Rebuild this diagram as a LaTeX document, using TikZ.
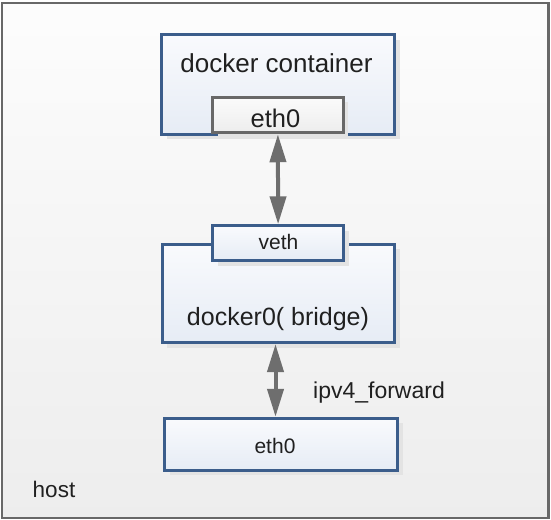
\documentclass[tikz,border=0pt]{standalone}
\usepackage{fontspec}
\setmainfont{Liberation Sans}
\usetikzlibrary{arrows.meta,shadows,positioning}

\definecolor{boxblue}{HTML}{3B5D8B}
\definecolor{boxtop}{HTML}{F9FAFD}
\definecolor{boxbottom}{HTML}{E6ECF5}
\definecolor{iftop}{HTML}{FBFBFB}
\definecolor{ifbottom}{HTML}{EDEDED}
\definecolor{arrowgray}{HTML}{6E6E6E}
\definecolor{framegray}{HTML}{686868}
\definecolor{txtgray}{HTML}{202020}

\tikzset{
  netbox/.style={draw=boxblue, line width=3pt, inner sep=0pt,
    top color=boxtop, bottom color=boxbottom,
    drop shadow={shadow xshift=5pt, shadow yshift=-5pt, fill=black!11, opacity=1}},
  ifbox/.style={netbox, draw=framegray, top color=iftop, bottom color=ifbottom},
  lbl/.style={anchor=base, inner sep=0pt, text=txtgray},
  biarrow/.style={draw=arrowgray, line width=4pt,
    {Triangle[width=16pt,length=28pt]}-{Triangle[width=16pt,length=28pt]}}
}

\begin{document}
\begin{tikzpicture}[x=1pt, y=-1pt]
        \useasboundingbox (0,0) rectangle (551,519);
        % host frame
        \draw [framegray, line width=2.5pt, top color=white!99!black, bottom color=white!93!black]
          (2.2,3.2) rectangle (548.3,518);
        \node [lbl, font=\fontsize{22.5}{26}\selectfont] (host) at (54,497) {host};
        % container with its eth0
        \node [netbox, minimum width=233.3pt, minimum height=99.2pt] (cont) at (278.3,84.6) {};
        \node [lbl, font=\fontsize{26}{30}\selectfont] (contname) at (276.5,73) {docker container};
        \node [ifbox, minimum width=130.8pt, minimum height=35.7pt] (ceth) at (277.9,114.9) {};
        \node [lbl, font=\fontsize{25.5}{30}\selectfont] (cethname) at (275.5,127) {eth0};
        % bridge with veth on top
        \node [netbox, minimum width=232.4pt, minimum height=98.3pt] (bridge) at (278.5,293.4) {};
        \node [lbl, font=\fontsize{25}{30}\selectfont] (bridgename) at (278,325) {docker0( bridge)};
        \node [netbox, minimum width=131.2pt, minimum height=35pt] (veth) at (278.1,243.3) {};
        \node [lbl, font=\fontsize{21}{25}\selectfont] (vethname) at (278.5,249) {veth};
        % host eth0
        \node [netbox, minimum width=232.7pt, minimum height=51.7pt] (heth) at (281.3,444.2) {};
        \node [lbl, font=\fontsize{21}{25}\selectfont] (hethname) at (275,453) {eth0};
        % links
        \draw [biarrow] (ceth.south) -- (veth.north);
        \draw [biarrow] ([xshift=-3pt]bridge.south) -- ([xshift=-5.8pt]heth.north);
        \node [lbl, font=\fontsize{23}{27}\selectfont] (fwd) at (379,398) {ipv4\_forward};
\end{tikzpicture}
\end{document}
